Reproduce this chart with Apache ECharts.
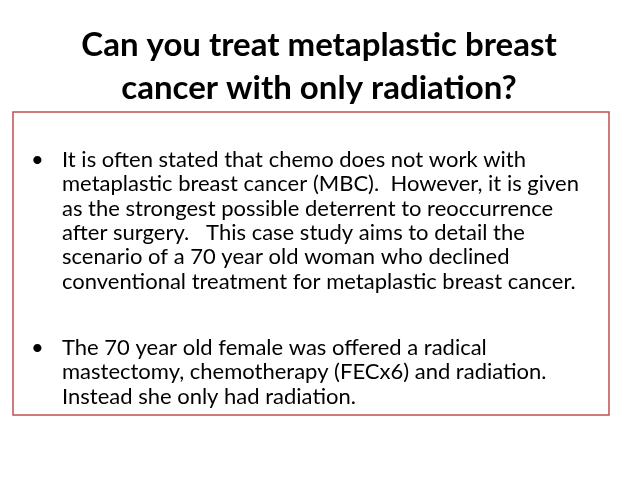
<!DOCTYPE html>
<html><head><meta charset="utf-8">
<script src="https://cdn.jsdelivr.net/npm/echarts@6/dist/echarts.min.js"></script>
<style>html,body{margin:0;padding:0;background:#fff}#c{width:638px;height:478px}</style>
</head><body><div id="c"></div>
<script>
const titleLines = ["Can you treat metaplastic breast", "cancer with only radiation?"];
const bullet1 = ["It is often stated that chemo does not work with",
 "metaplastic breast cancer (MBC).  However, it is given",
 "as the strongest possible deterrent to reoccurrence",
 "after surgery.   This case study aims to detail the",
 "scenario of a 70 year old woman who declined",
 "conventional treatment for metaplastic breast cancer."];
const bullet2 = ["The 70 year old female was offered a radical",
 "mastectomy, chemotherapy (FECx6) and radiation.",
 "Instead she only had radiation."];
const chart = echarts.init(document.getElementById('c'));
const font = 'Lato';
const els = [];
titleLines.forEach((t,i)=>els.push({type:'text',x:319,y:45+i*43,style:{text:t,font:'bold 33px '+font,fill:'#000',textAlign:'center',textVerticalAlign:'middle'}}));
els.push({type:'rect',shape:{x:13,y:112,width:596,height:303},style:{fill:'none',stroke:'#c0504d',lineWidth:1.5}});
function bullet(lines,y0){
  els.push({type:'text',x:31,y:y0,style:{text:'•',font:'22px '+font,fill:'#000',textVerticalAlign:'middle'}});
  lines.forEach((t,i)=>els.push({type:'text',x:62,y:y0+i*24.3,style:{text:t,font:'22px '+font,fill:'#000',textVerticalAlign:'middle'}}));
}
bullet(bullet1,160);
bullet(bullet2,348);
chart.setOption({graphic:{elements:els}});
</script></body></html>
